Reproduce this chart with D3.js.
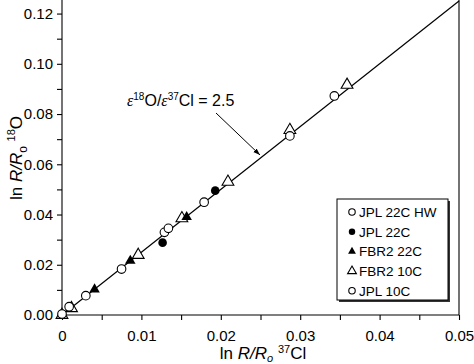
<!DOCTYPE html>
<html><head><meta charset="utf-8">
<script src="https://cdn.jsdelivr.net/npm/d3@7"></script>
<style>body{margin:0;background:#fff}svg{display:block}text{font-family:"Liberation Sans",Arial,sans-serif;fill:#000}</style>
</head><body>
<script>
// Data (x = ln R/Ro 37Cl, y = ln R/Ro 18O)
const jpl22cHW = [[0.0009,0.0033],[0.0129,0.0329],[0.0134,0.0345],[0.0179,0.0449]];
const jpl22c   = [[0.01267,0.0288],[0.0193,0.0495]];
const fbr2_22c = [[0.0041,0.0102],[0.0086,0.0216],[0.0157,0.0390]];
const fbr2_10c = [[0,0],[0.0012,0.0027],[0.0096,0.0239],[0.0151,0.0385],[0.0209,0.0530],[0.0287,0.0736],[0.0359,0.0916]];
const jpl10c   = [[0,0.0004],[0.0030,0.0077],[0.0075,0.0183],[0.0287,0.0713],[0.0343,0.0872]];
const slope = 2.5;
const xTicks = [0,0.01,0.02,0.03,0.04,0.05];
const xTickLabels = ["0","0.01","0.02","0.03","0.04","0.05"];
const yTicks = [0,0.02,0.04,0.06,0.08,0.10,0.12];
const legendLabels = ["JPL 22C HW","JPL 22C","FBR2 22C","FBR2 10C","JPL 10C"];

const W=474,H=364;
const m={l:62,r:15,t:1,b:49};
const svg=d3.select("body").append("svg").attr("width",W).attr("height",H);
const x=d3.scaleLinear().domain([0,0.05]).range([m.l,459]);
const y=d3.scaleLinear().domain([0,0.125]).range([315,m.t]);

// axes
const xAxis=d3.axisBottom(x).tickValues(d3.range(0,0.0501,0.005)).tickSize(5)
  .tickFormat(d=>{const i=xTicks.findIndex(t=>Math.abs(t-d)<1e-9);return i>=0?xTickLabels[i]:"";});
const gx=svg.append("g").attr("transform",`translate(0,${y(0)})`).call(xAxis);
gx.select(".domain").attr("d",`M${x(0)},0H${x(0.05)}`);
gx.selectAll("text").attr("font-size",15).attr("y",15).attr("dy","0.71em").style("font-family","Liberation Sans, Arial, sans-serif");
const yAxis=d3.axisLeft(y).tickValues(d3.range(0,0.1251,0.01)).tickSize(5)
  .tickFormat(d=>{const i=yTicks.findIndex(t=>Math.abs(t-d)<1e-9);return i>=0?d3.format(".2f")(d):"";});
const gy=svg.append("g").attr("transform",`translate(${x(0)},0)`).call(yAxis);
gy.select(".domain").attr("d",`M0,${y(0)}V${y(0.125)-1}`);
gy.selectAll("text").attr("font-size",15).attr("x",-9).style("font-family","Liberation Sans, Arial, sans-serif");
svg.selectAll(".domain, .tick line").attr("stroke","#000").attr("stroke-width",1.1);
// right border
svg.append("line").attr("x1",x(0.05)).attr("x2",x(0.05)).attr("y1",0).attr("y2",y(0)).attr("stroke","#000").attr("stroke-width",1.1);

// regression line
svg.append("line").attr("x1",x(0)).attr("y1",y(0)).attr("x2",x(0.05)).attr("y2",y(0.05*slope))
  .attr("stroke","#000").attr("stroke-width",1.2);

// markers
function drawMarker(g,type,cx,cy,scale){
  scale=scale||1;
  if(type==="oc") g.append("circle").attr("cx",cx).attr("cy",cy).attr("r",4.3*scale).attr("fill","#fff").attr("stroke","#000").attr("stroke-width",1.1);
  if(type==="fc") g.append("circle").attr("cx",cx).attr("cy",cy).attr("r",4.3*scale).attr("fill","#000");
  if(type==="ot") g.append("path").attr("transform",`translate(${cx},${cy})`).attr("d",d3.symbol(d3.symbolTriangle,60*scale*scale)()).attr("fill","#fff").attr("stroke","#000").attr("stroke-width",1.1);
  if(type==="ft") g.append("path").attr("transform",`translate(${cx},${cy})`).attr("d",d3.symbol(d3.symbolTriangle,48*scale*scale)()).attr("fill","#000");
}
const gm=svg.append("g");
fbr2_10c.forEach(d=>drawMarker(gm,"ot",x(d[0]),y(d[1])));
fbr2_22c.forEach(d=>drawMarker(gm,"ft",x(d[0]),y(d[1])));
jpl10c.forEach(d=>drawMarker(gm,"oc",x(d[0]),y(d[1])));
jpl22cHW.forEach(d=>drawMarker(gm,"oc",x(d[0]),y(d[1])));
jpl22c.forEach(d=>drawMarker(gm,"fc",x(d[0]),y(d[1])));

// annotation
const ann=svg.append("text").attr("x",127).attr("y",106).attr("font-size",16);
ann.append("tspan").text("ε").attr("font-style","italic").style("font-family","Liberation Serif, Times New Roman, serif");
ann.append("tspan").text("18").attr("font-size",10).attr("dy",-6);
ann.append("tspan").text("O/").attr("dy",6);
ann.append("tspan").text("ε").attr("font-style","italic").style("font-family","Liberation Serif, Times New Roman, serif");
ann.append("tspan").text("37").attr("font-size",10).attr("dy",-6);
ann.append("tspan").text("Cl = 2.5").attr("dy",6);
svg.append("defs").append("marker").attr("id","ah").attr("viewBox","0 0 10 10").attr("refX",10).attr("refY",5)
  .attr("markerWidth",7).attr("markerHeight",7).attr("orient","auto")
  .append("path").attr("d","M0,1.5L10,5L0,8.5Z").attr("fill","#000");
svg.append("line").attr("x1",216).attr("y1",113).attr("x2",260).attr("y2",155).attr("stroke","#000").attr("stroke-width",1).attr("marker-end","url(#ah)");

// legend
const lg=svg.append("g");
lg.append("rect").attr("x",339).attr("y",201).attr("width",111).attr("height",101).attr("fill","#333");
lg.append("rect").attr("x",337).attr("y",199).attr("width",111).attr("height",101).attr("fill","#fff").attr("stroke","#000").attr("stroke-width",1);
const ltypes=["oc","fc","ft","ot","oc"];
legendLabels.forEach((t,i)=>{
  const cy=212+i*19.7;
  drawMarker(lg,ltypes[i],352,cy,0.75);
  lg.append("text").attr("x",359).attr("y",cy).attr("dy","0.36em").attr("font-size",13.5).text(t);
});

// axis titles
const xt=svg.append("text").attr("x",263).attr("y",359).attr("text-anchor","middle").attr("font-size",17);
xt.append("tspan").text("ln ");
xt.append("tspan").text("R/R").attr("font-style","italic");
xt.append("tspan").text("o").attr("font-style","italic").attr("font-size",11).attr("dy",3);
xt.append("tspan").text(" ").attr("dy",-3);
xt.append("tspan").text("37").attr("font-size",11).attr("dy",-6);
xt.append("tspan").text("Cl").attr("dy",6);

const yt=svg.append("text").attr("transform","translate(22,158) rotate(-90)").attr("text-anchor","middle").attr("font-size",17);
yt.append("tspan").text("ln ");
yt.append("tspan").text("R/R").attr("font-style","italic");
yt.append("tspan").text("o").attr("font-size",12).attr("dy",5);
yt.append("tspan").text(" ").attr("dy",-5);
yt.append("tspan").text("18").attr("font-size",11).attr("dy",-7);
yt.append("tspan").text("O").attr("dy",7);
</script>
</body></html>
